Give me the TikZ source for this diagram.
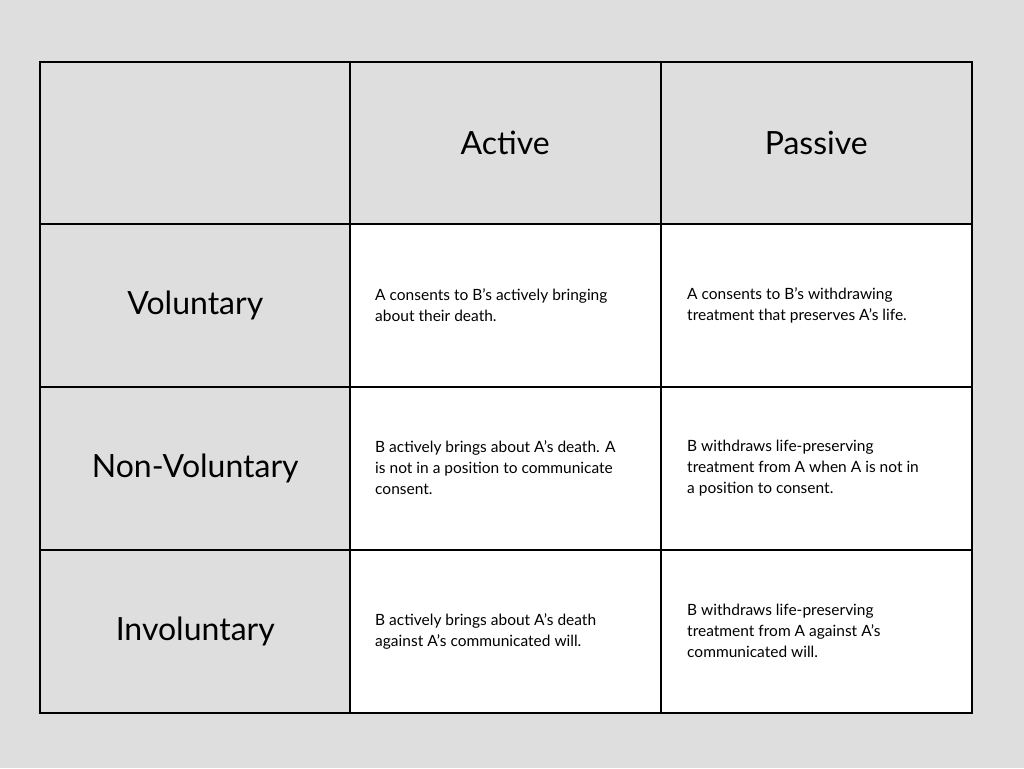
\documentclass[tikz,border=0pt]{standalone}
\usepackage{fontspec}
\setmainfont{Lato}
\begin{document}
\begin{tikzpicture}[x=1pt,y=-1pt,
  cell/.style={draw=black,line width=1.5pt,minimum width=311pt,minimum height=163pt,anchor=north west,inner sep=0pt},
  gray/.style={cell,fill=bgc},
  white/.style={cell,fill=white},
  head/.style={font=\fontsize{32}{36}\selectfont},
  body/.style={font=\fontsize{15.5}{21}\selectfont,align=left,inner sep=0pt}]
\definecolor{bgc}{HTML}{DEDEDE}
\fill[bgc] (0,0) rectangle (1024,768);
\useasboundingbox (0,0) rectangle (1024,768);
\node[gray] (c00) at (39,61) {};
\node[gray,head] (c01) at (349,61) {Active};
\node[gray,head] (c02) at (660,61) {Passive};
\node[gray,head] (c10) at (39,223) {Voluntary};
\node[gray,head] (c20) at (39,386) {Non-Voluntary};
\node[gray,head] (c30) at (39,549) {Involuntary};
\node[white] (c11) at (349,223) {};
\node[white] (c12) at (660,223) {};
\node[white] (c21) at (349,386) {};
\node[white] (c22) at (660,386) {};
\node[white] (c31) at (349,549) {};
\node[white] (c32) at (660,549) {};
\node[body,anchor=west] (t11) at (375,305) {A consents to B’s actively bringing\\about their death.};
\node[body,anchor=west] (t12) at (687,305) {A consents to B’s withdrawing\\treatment that preserves A’s life.};
\node[body,anchor=west] (t21) at (375,468) {B actively brings about A’s death. A\\is not in a position to communicate\\consent.};
\node[body,anchor=west] (t22) at (687,468) {B withdraws life-preserving\\treatment from A when A is not in\\a position to consent.};
\node[body,anchor=west] (t31) at (375,631) {B actively brings about A’s death\\against A’s communicated will.};
\node[body,anchor=west] (t32) at (687,631) {B withdraws life-preserving\\treatment from A against A’s\\communicated will.};
\end{tikzpicture}
\end{document}
